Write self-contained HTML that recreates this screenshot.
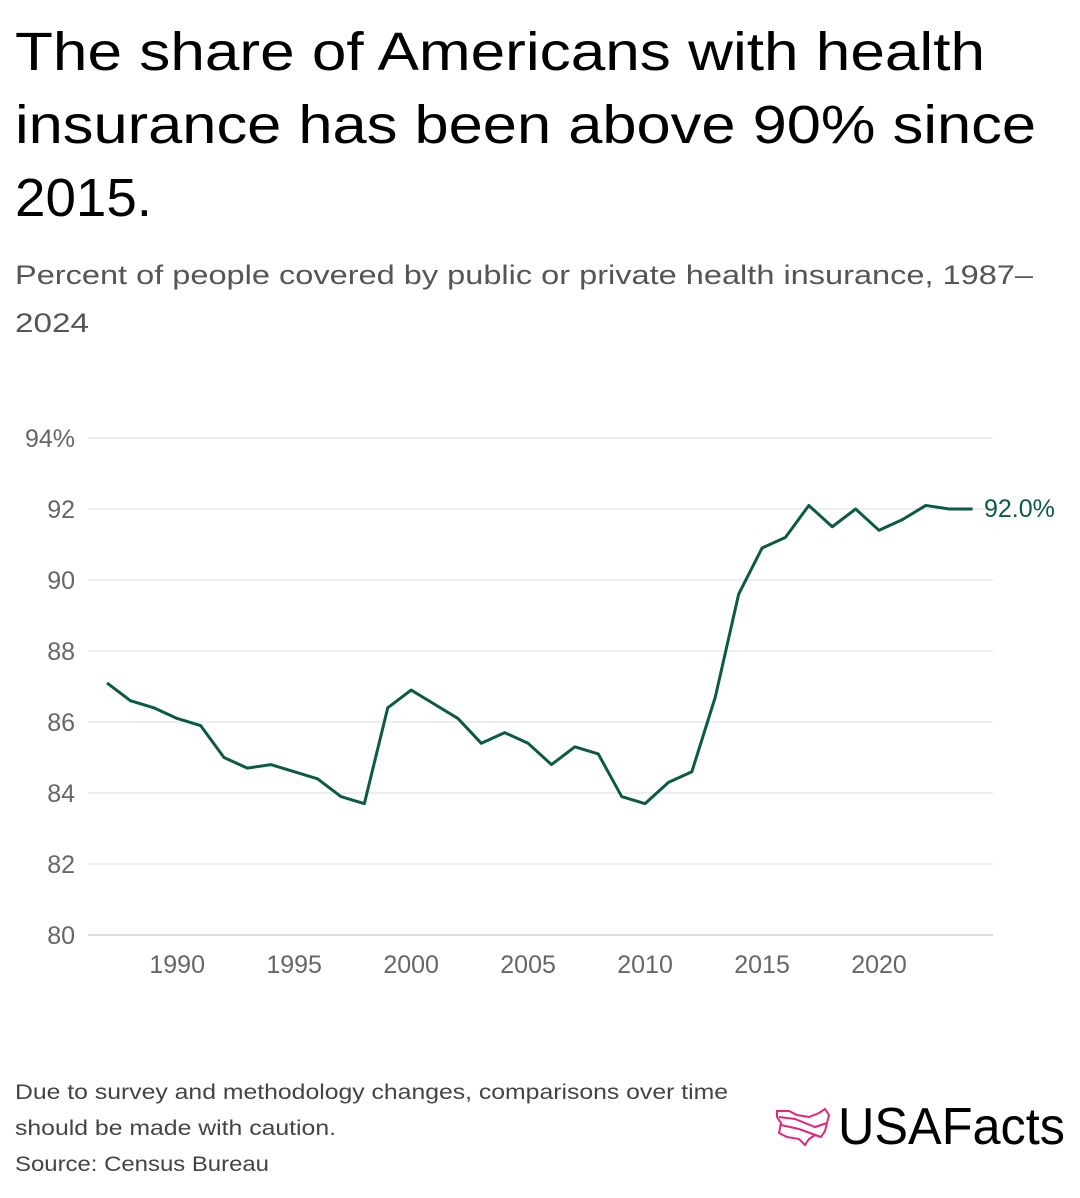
<!DOCTYPE html>
<html><head><meta charset="utf-8">
<style>
body{margin:0;width:1080px;height:1198px;background:#fff;font-family:"Liberation Sans",sans-serif;overflow:hidden;position:relative}
.ln{position:absolute;left:15px;white-space:nowrap;transform-origin:0 0}
.t{font-size:54px;color:#000;line-height:60px}
.s{font-size:27px;color:#555;line-height:32px}
.f{font-size:21px;color:#444;line-height:26px}
</style></head><body>
<div>
<span class="ln t" style="top:22px" data-w="970">The share of Americans with health</span>
<span class="ln t" style="top:95px" data-w="1021">insurance has been above 90% since</span>
<span class="ln t" style="top:168px" data-w="137">2015.</span>
</div>
<div>
<span class="ln s" style="top:259px" data-w="1018">Percent of people covered by public or private health insurance, 1987–</span>
<span class="ln s" style="top:307px" data-w="74">2024</span>
</div>
<svg id="chart" width="1080" height="1000" style="position:absolute;left:0;top:0"></svg>
<span class="ln f" style="top:1080px" data-w="713">Due to survey and methodology changes, comparisons over time</span>
<span class="ln f" style="top:1116px" data-w="321">should be made with caution.</span>
<span class="ln f" style="top:1152px" data-w="254">Source: Census Bureau</span>
<div style="position:absolute;left:775px;top:1102px;width:300px;height:50px">
<svg width="58" height="44" viewBox="0 0 58 44" style="position:absolute;left:0;top:3px"><path d="M2 6 L14 6 L22 10 L34 12 L44 8 L50 4 L54 10 L52 18 L50 26 L46 32 L40 30 L34 34 L30 40 L24 34 L12 32 L4 28 L6 18 L2 12 Z M4 12 L20 14 L40 22 L52 18 M6 20 L24 24 L46 32" fill="none" stroke="#e5247e" stroke-width="2"/></svg>
<span class="ln" style="left:63px;top:-3px;font-size:52px;color:#000;line-height:56px" data-w="227">USAFacts</span></div>
<script>
const years=[1987,1988,1989,1990,1991,1992,1993,1994,1995,1996,1997,1998,1999,2000,2001,2002,2003,2004,2005,2006,2007,2008,2009,2010,2011,2012,2013,2014,2015,2016,2017,2018,2019,2020,2021,2022,2023,2024];
const values=[87.1,86.6,86.4,86.1,85.9,85.0,84.7,84.8,84.6,84.4,83.9,83.7,86.4,86.9,86.5,86.1,85.4,85.7,85.4,84.8,85.3,85.1,83.9,83.7,84.3,84.6,86.7,89.6,90.9,91.2,92.1,91.5,92.0,91.4,91.7,92.1,92.0,92.0];
const yTicks=[80,82,84,86,88,90,92,94];
const yLabels=["80","82","84","86","88","90","92","94%"];
const xTicks=[1990,1995,2000,2005,2010,2015,2020];
document.querySelectorAll('[data-w]').forEach(e=>{const w=e.getBoundingClientRect().width;e.style.transform='scaleX('+(+e.dataset.w/w)+')';});
const svg=document.getElementById('chart');const NS='http://www.w3.org/2000/svg';
const x=v=>107+(v-1987)*(972.6-107)/37;
const y=v=>935-(v-80)*(935-438)/14;
function el(t,a){const e=document.createElementNS(NS,t);for(const k in a)e.setAttribute(k,a[k]);svg.appendChild(e);return e;}
yTicks.forEach((t,i)=>{
 const l=el('line',{x1:88,x2:993,y1:y(t),y2:y(t),stroke:i==0?'#bbb':'#ddd','stroke-width':1});
 
 
 const tx=el('text',{x:75,y:y(t)+9,'text-anchor':'end','font-size':25,fill:'#666','font-family':'Liberation Sans'});
 tx.textContent=yLabels[i];
 
 
});
xTicks.forEach(t=>{
 const tx=el('text',{x:x(t),y:973,'text-anchor':'middle','font-size':25,fill:'#666','font-family':'Liberation Sans'});
 tx.textContent=t;
 
 
});
const p=el('polyline',{points:years.map((yr,i)=>x(yr)+','+y(values[i])).join(' '),fill:'none',stroke:'#0b5a45','stroke-width':3,'stroke-linejoin':'round'});


const last=values[values.length-1];
const lb=el('text',{x:984,y:y(last)+8,'font-size':25,fill:'#0b5a45','font-family':'Liberation Sans'});
lb.textContent=last.toFixed(1)+'%';


</script>
</body></html>
